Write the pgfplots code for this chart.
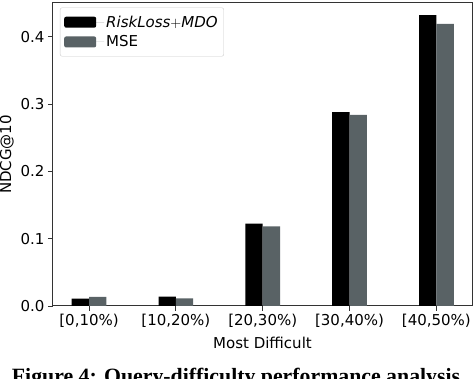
\documentclass[border=0pt]{standalone}
\usepackage{pgfplots}
\pgfplotsset{compat=1.18}
\usepackage{fontspec}
\setmainfont{DejaVu Sans}
\newfontfamily\capfont{Liberation Serif}
\definecolor{barblack}{RGB}{0,0,0}
\definecolor{bargray}{RGB}{89,98,101}
\begin{document}
\begin{tikzpicture}
\useasboundingbox (0pt,0pt) rectangle (474pt,379pt);
\clip (0pt,0pt) rectangle (474pt,379pt);
\begin{axis}[
  at={(53pt,73pt)}, anchor=south west,
  scale only axis, width=419pt, height=303pt,
  xmin=-0.415, xmax=4.41, ymin=0, ymax=0.45,
  xtick={0,1,2,3,4},
  xticklabels={{[0,10\%)},{[10,20\%)},{[20,30\%)},{[30,40\%)},{[40,50\%)}},
  ytick={0,0.1,0.2,0.3,0.4},
  yticklabel style={/pgf/number format/.cd,fixed,fixed zerofill,precision=1},
  /pgf/number format/assume math mode=true,
  tick label style={font=\fontsize{15}{18}\selectfont},
  label style={font=\fontsize{15}{18}\selectfont},
  tick align=outside, tick pos=left, major tick length=5pt,
  tick style={black!80, line width=0.8pt},
  axis line style={black!80, line width=1pt},
  xlabel={Most Difficult}, ylabel={NDCG@10},
  xlabel style={yshift=-2pt},
  ybar, bar width=0.2,
  legend style={at={(rel axis cs:0.0167,0.985)}, anchor=north west,
    draw=black!20, rounded corners=2pt, fill=white,
    font=\fontsize{15}{18}\selectfont, inner xsep=4pt, inner ysep=6pt,
    row sep=3pt,
    nodes={inner ysep=2pt}},
  legend cell align=left,
]
\addplot[fill=barblack, draw=none, bar shift=-0.1,
  legend image code/.code={\path (0pt,0pt) -- (40pt,0pt);\fill[barblack] (0pt,-5.5pt) rectangle (32pt,5.5pt);}]
  coordinates {(0,0.0108) (1,0.0138) (2,0.1223) (3,0.2878) (4,0.4319)};
\addplot[fill=bargray, draw=none, bar shift=0.1,
  legend image code/.code={\path (0pt,0pt) -- (40pt,0pt);\fill[bargray] (0pt,-5.5pt) rectangle (32pt,5.5pt);}]
  coordinates {(0,0.0134) (1,0.0114) (2,0.1184) (3,0.2838) (4,0.419)};
\legend{\textit{RiskLoss}$+$\textit{MDO}, MSE}
\end{axis}
\node[anchor=base, font=\capfont\bfseries\fontsize{21.8}{24}\selectfont] at (236pt,-4.4pt) {Figure 4: Query-difficulty performance analysis};
\end{tikzpicture}
\end{document}
